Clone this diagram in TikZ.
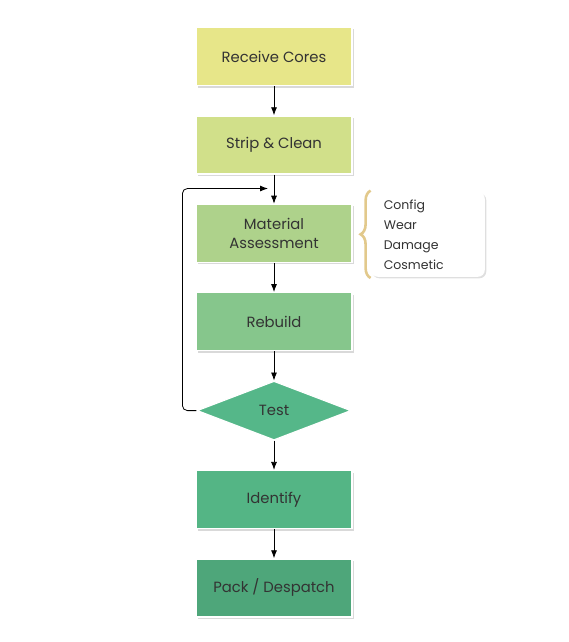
\documentclass[tikz,border=0pt]{standalone}
\usepackage{fontspec}
\setmainfont{Poppins}
\usetikzlibrary{arrows.meta}
\usetikzlibrary{positioning}
\usetikzlibrary{shapes.geometric}
\usetikzlibrary{shadows}
\usetikzlibrary{decorations.pathreplacing}
\definecolor{receivecol}{HTML}{E7E689}
\definecolor{stripcol}{HTML}{D1E08A}
\definecolor{assesscol}{HTML}{AED28B}
\definecolor{rebuildcol}{HTML}{86C68C}
\definecolor{testcol}{HTML}{55B789}
\definecolor{identcol}{HTML}{54B585}
\definecolor{packcol}{HTML}{4EA67A}
\definecolor{bracecol}{HTML}{E2C98C}
\definecolor{labelcol}{HTML}{333333}

\begin{document}
\begin{tikzpicture}[%
    x=1pt, y=-1pt,
    node distance=29.2pt,
    stepbox/.style={rectangle, draw=white, line width=1.2pt,
      minimum width=156pt, minimum height=58pt, align=center,
      text=labelcol, font=\fontsize{14.8}{19}\selectfont,
      drop shadow={opacity=0.3, shadow xshift=2pt, shadow yshift=-2pt}},
    testbox/.style={diamond, aspect=2.6, draw=white, line width=1.2pt,
      minimum width=154pt, minimum height=59pt, inner sep=0pt,
      text=labelcol, font=\fontsize{14.8}{19}\selectfont},
    notebox/.style={rectangle, rounded corners=7pt, fill=white,
      text width=88pt, inner xsep=13pt, minimum height=85pt, align=left,
      text=labelcol, font=\fontsize{12.5}{20}\selectfont,
      drop shadow={opacity=0.25, shadow xshift=1.5pt, shadow yshift=-1.5pt}},
    flow/.style={-{Latex[length=8pt, width=6pt]}, thick, black}]
  \useasboundingbox (0,0) rectangle (569,642);

  \node[stepbox, fill=receivecol] (receive) at (274,56.5) {Receive Cores};
  \node[stepbox, fill=stripcol, below=of receive] (strip) {Strip \& Clean};
  \node[stepbox, fill=assesscol, below=of strip] (assess) {Material\\Assessment};
  \node[stepbox, fill=rebuildcol, below=of assess] (rebuild) {Rebuild};
  \node[testbox, fill=testcol, below=of rebuild] (test) {Test};
  \node[stepbox, fill=identcol, below=of test] (identify) {Identify};
  \node[stepbox, fill=packcol, below=of identify] (pack) {Pack / Despatch};

  % checklist beside the assessment
  \node[notebox, right=18pt of assess, yshift=-1pt] (notes)
    {Config\\Wear\\Damage\\Cosmetic};
  \draw[bracecol, line width=2.6pt, decorate,
    decoration={brace, amplitude=10pt}]
    ([yshift=-1pt]notes.south west) -- ([yshift=1pt]notes.north west);

  \draw[flow] (receive) -- (strip);
  \draw[flow] (strip) -- (assess);
  \draw[flow] (assess) -- (rebuild);
  \draw[flow] (rebuild) -- (test);
  \draw[flow] (test) -- (identify);
  \draw[flow] (identify) -- (pack);

  % loop back from test
  \path (strip.south) -- (assess.north) coordinate[pos=0.48] (loopmid);
  \coordinate (loopin) at ([xshift=-6pt]loopmid);
  \draw[flow, rounded corners=5pt] (test.west) -- ++(-14,0) |- (loopin);
\end{tikzpicture}
\end{document}
